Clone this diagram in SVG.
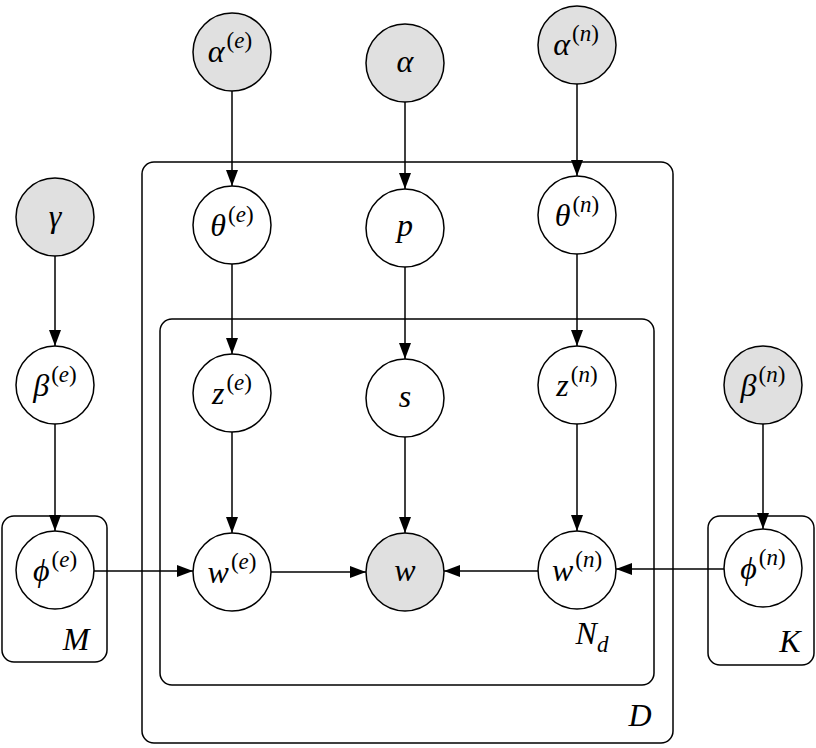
<svg xmlns="http://www.w3.org/2000/svg" width="816" height="748" viewBox="0 0 816 748">
<style>
circle{stroke:#000;stroke-width:1.5;fill:#fff}
.o{fill:#e0e0e0}
rect{fill:none;stroke:#000;stroke-width:1.5}
text{font-family:"Liberation Serif",serif;font-style:italic;font-size:32px;text-anchor:middle}
.s{font-size:23px}
.u{font-style:normal}
line{stroke:#000;stroke-width:1.5;marker-end:url(#a)}
</style>
<defs><marker id="a" markerWidth="16" markerHeight="12" refX="16" refY="6" orient="auto" markerUnits="userSpaceOnUse"><path d="M0,0L16,6L0,12z"/></marker></defs>
<g id="plates">
<rect x="142" y="162" width="531" height="581" rx="12"/>
<rect x="160" y="319" width="494" height="366" rx="12"/>
<rect x="2" y="516" width="105" height="146" rx="12"/>
<rect x="708" y="516" width="106" height="149" rx="12"/>
<text x="640" y="726" font-size="28">D</text>
<text x="592" y="644" font-size="28">N<tspan class="s" dy="8">d</tspan></text>
<text x="76" y="650" font-size="28">M</text>
<text x="790" y="652" font-size="28">K</text>
</g>
<g id="connectors">
<line x1="232" y1="91" x2="232" y2="186"/>
<line x1="405" y1="102" x2="405" y2="189"/>
<line x1="577" y1="84" x2="577" y2="176"/>
<line x1="55" y1="256" x2="55" y2="346"/>
<line x1="232" y1="264" x2="232" y2="354"/>
<line x1="405" y1="267" x2="405" y2="359"/>
<line x1="577" y1="254" x2="577" y2="346"/>
<line x1="763" y1="424" x2="763" y2="529"/>
<line x1="55" y1="424" x2="55" y2="531"/>
<line x1="232" y1="432" x2="232" y2="533"/>
<line x1="405" y1="437" x2="405" y2="533"/>
<line x1="577" y1="424" x2="577" y2="531"/>
<line x1="94" y1="571" x2="193" y2="571"/>
<line x1="271" y1="572" x2="366" y2="572"/>
<line x1="538" y1="571" x2="444" y2="571"/>
<line x1="724" y1="569" x2="616" y2="569"/>
</g>
<g id="alpha_e"><circle class="o" cx="232" cy="52" r="39"/><text x="230" y="62">α<tspan class="s" dx="2" dy="-14"><tspan class="u">(</tspan>e<tspan class="u">)</tspan></tspan></text></g>
<g id="alpha"><circle class="o" cx="405" cy="63" r="39"/><text x="405" y="72">α</text></g>
<g id="alpha_n"><circle class="o" cx="577" cy="45" r="39"/><text x="576" y="55">α<tspan class="s" dx="2" dy="-14"><tspan class="u">(</tspan>n<tspan class="u">)</tspan></tspan></text></g>
<g id="gamma"><circle class="o" cx="55" cy="217" r="39"/><text x="55" y="227">γ</text></g>
<g id="theta_e"><circle cx="232" cy="225" r="39"/><text x="232" y="236">θ<tspan class="s" dx="2" dy="-14"><tspan class="u">(</tspan>e<tspan class="u">)</tspan></tspan></text></g>
<g id="p"><circle cx="405" cy="228" r="39"/><text x="405" y="236">p</text></g>
<g id="theta_n"><circle cx="577" cy="215" r="39"/><text x="577" y="226">θ<tspan class="s" dx="2" dy="-14"><tspan class="u">(</tspan>n<tspan class="u">)</tspan></tspan></text></g>
<g id="beta_e"><circle cx="55" cy="385" r="39"/><text x="55" y="396">β<tspan class="s" dx="2" dy="-14"><tspan class="u">(</tspan>e<tspan class="u">)</tspan></tspan></text></g>
<g id="z_e"><circle cx="232" cy="393" r="39"/><text x="232" y="404">z<tspan class="s" dx="2" dy="-14"><tspan class="u">(</tspan>e<tspan class="u">)</tspan></tspan></text></g>
<g id="s"><circle cx="405" cy="398" r="39"/><text x="405" y="407">s</text></g>
<g id="z_n"><circle cx="577" cy="385" r="39"/><text x="577" y="396">z<tspan class="s" dx="2" dy="-14"><tspan class="u">(</tspan>n<tspan class="u">)</tspan></tspan></text></g>
<g id="beta_n"><circle class="o" cx="763" cy="385" r="39"/><text x="763" y="396">β<tspan class="s" dx="2" dy="-14"><tspan class="u">(</tspan>n<tspan class="u">)</tspan></tspan></text></g>
<g id="phi_e"><circle cx="55" cy="570" r="39"/><text x="55" y="581">ϕ<tspan class="s" dx="2" dy="-14"><tspan class="u">(</tspan>e<tspan class="u">)</tspan></tspan></text></g>
<g id="w_e"><circle cx="232" cy="572" r="39"/><text x="232" y="583">w<tspan class="s" dx="2" dy="-14"><tspan class="u">(</tspan>e<tspan class="u">)</tspan></tspan></text></g>
<g id="w"><circle class="o" cx="405" cy="572" r="39"/><text x="405" y="581">w</text></g>
<g id="w_n"><circle cx="577" cy="570" r="39"/><text x="577" y="581">w<tspan class="s" dx="2" dy="-14"><tspan class="u">(</tspan>n<tspan class="u">)</tspan></tspan></text></g>
<g id="phi_n"><circle cx="763" cy="568" r="39"/><text x="763" y="579">ϕ<tspan class="s" dx="2" dy="-14"><tspan class="u">(</tspan>n<tspan class="u">)</tspan></tspan></text></g>
</svg>
